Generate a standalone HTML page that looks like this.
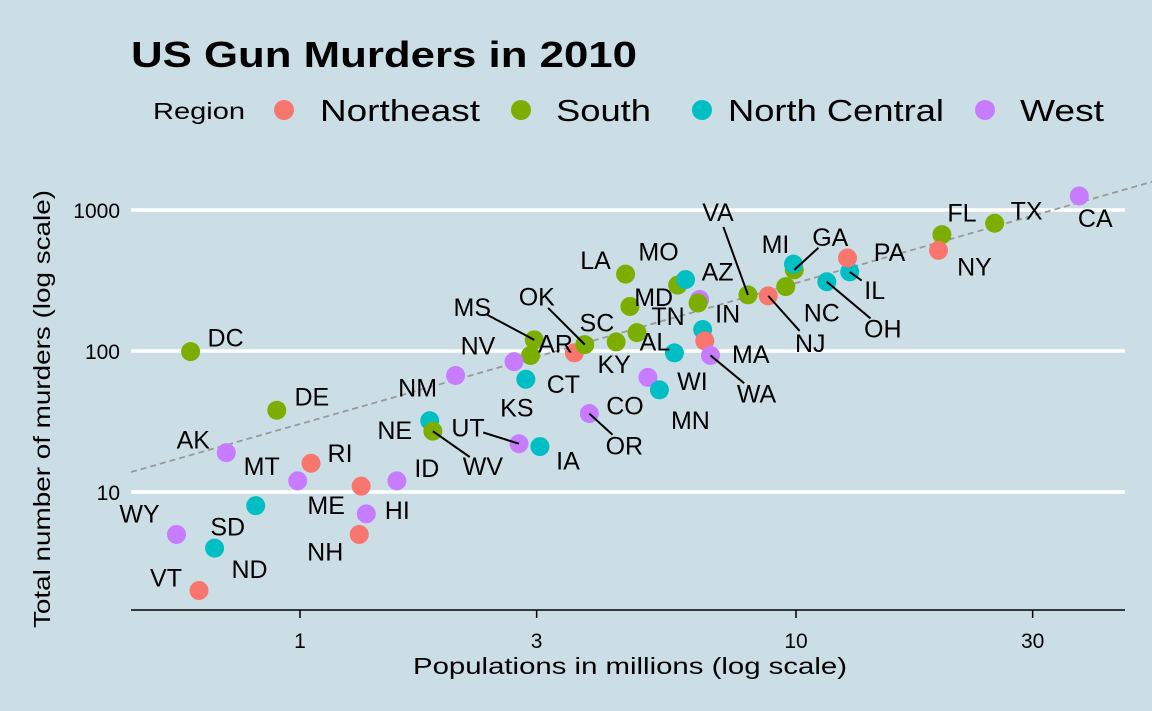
<!DOCTYPE html>
<html><head><meta charset="utf-8"><style>
body{margin:0;background:#cbdee6;}
svg{display:block;font-family:"Liberation Sans",Arial,sans-serif;}
</style></head><body>
<svg id="chart" width="1152" height="711">
<rect x="0" y="0" width="1152" height="711" fill="#cbdee6"/>
<text x="131" y="67" font-size="36" font-weight="bold" fill="#000" textLength="506" lengthAdjust="spacingAndGlyphs">US Gun Murders in 2010</text>
<g>
<text x="153" y="119" font-size="23" textLength="92" lengthAdjust="spacingAndGlyphs">Region</text>
<circle cx="284" cy="110" r="10" fill="#F8766D"/>
<text x="320" y="121" font-size="31" textLength="160" lengthAdjust="spacingAndGlyphs">Northeast</text>
<circle cx="521" cy="110" r="10" fill="#7CAE00"/>
<text x="556" y="121" font-size="31" textLength="95" lengthAdjust="spacingAndGlyphs">South</text>
<circle cx="702" cy="110" r="10" fill="#00BFC4"/>
<text x="728" y="121" font-size="31" textLength="216" lengthAdjust="spacingAndGlyphs">North Central</text>
<circle cx="985" cy="110" r="10" fill="#C77CFF"/>
<text x="1020" y="121" font-size="31" textLength="84" lengthAdjust="spacingAndGlyphs">West</text>
</g>
<g id="grid"></g><g id="axes"></g><g id="marks"></g>
<text x="413" y="674" font-size="23" textLength="434" lengthAdjust="spacingAndGlyphs">Populations in millions (log scale)</text>
<text transform="translate(50,628) rotate(-90)" font-size="23" textLength="438" lengthAdjust="spacingAndGlyphs">Total number of murders (log scale)</text>
</svg>
<script>
const abbs=["AL","AK","AZ","AR","CA","CO","CT","DE","DC","FL","GA","HI","ID","IL","IN","IA","KS","KY","LA","ME","MD","MA","MI","MN","MS","MO","MT","NE","NV","NH","NJ","NM","NY","NC","ND","OH","OK","OR","PA","RI","SC","SD","TN","TX","UT","VT","VA","WA","WV","WI","WY"];
const regions=["S","W","W","S","W","W","NE","S","S","S","S","W","W","NC","NC","NC","NC","S","S","NE","S","NE","NC","NC","S","NC","W","NC","W","NE","NE","W","NE","S","NC","NC","S","W","NE","NE","S","NC","S","S","W","NE","S","W","S","NC","W"];
const population=[4.779736,0.710231,6.392017,2.915918,37.253956,5.029196,3.574097,0.897934,0.601723,19.687653,9.92,1.360301,1.567582,12.830632,6.483802,3.046355,2.853118,4.339367,4.533372,1.328361,5.773552,6.547629,9.88364,5.303925,2.967297,5.988927,0.989415,1.826341,2.700551,1.31647,8.791894,2.059179,19.378102,9.535483,0.672591,11.536504,3.751351,3.831074,12.702379,1.052567,4.625364,0.81418,6.346105,25.145561,2.763885,0.625741,8.001024,6.72454,1.852994,5.686986,0.563626];
const murders=[135,19,232,93,1257,65,97,38,99,669,376,7,12,364,142,21,63,116,351,11,293,118,413,53,120,321,12,32,84,5,246,67,517,286,4,310,111,36,457,16,207,8,219,805,22,2,250,93,27,97,5];
const xTicks=[1,3,10,30];
const yTicks=[10,100,1000];
const rate=30.35;
const ldx=[18,-33,18,25,16,-23,-11,35,35,20,36,31,30,25,25,28,-9,-2,-30,-35,-24,46,-18,31,-62,-27,-36,-35,-36,-34,42,-38,36,36,35,56,-48,35,42,29,-33,-28,-30,32,-51,-33,-30,46,50,18,-37];
const ldy=[9,-13,-28,-12,22,28,31,-14,-14,-22,-33,-4,-13,18,-16,14,28,22,-14,19,12,13,-20,30,-33,-28,-15,9,-16,17,47,12,16,26,21,47,-48,32,-6,-10,16,21,13,-13,-16,-13,-83,38,35,28,-21];
const leader=["GA","OH","NJ","VA","MS","OK","OR","UT","WV","WA","IL"];
const colors={NE:"#F8766D",S:"#7CAE00",NC:"#00BFC4",W:"#C77CFF"};
const L=131,R=1125;
const xs=v=>300+496*Math.log10(v);
const ys=v=>633-141*Math.log10(v);
const ns="http://www.w3.org/2000/svg";
function mk(p,t,a){const e=document.createElementNS(ns,t);for(const k in a)e.setAttribute(k,a[k]);p.appendChild(e);return e;}
const grid=document.getElementById('grid'),axes=document.getElementById('axes'),marks=document.getElementById('marks');
yTicks.forEach(t=>{
 const g=mk(grid,'line',{x1:L,x2:R,y1:ys(t),y2:ys(t),stroke:'#fff','stroke-width':3.5});
 
 
 const tx=mk(axes,'text',{x:120,y:ys(t)+8,'font-size':21,'text-anchor':'end'});tx.textContent=t;
 
 
});
const ax=mk(axes,'line',{x1:L,x2:R,y1:610,y2:610,stroke:'#000','stroke-width':1.5});


xTicks.forEach(t=>{
 const tk=mk(axes,'line',{x1:xs(t),x2:xs(t),y1:610,y2:618,stroke:'#000','stroke-width':1.5});
 
 
 const tx=mk(axes,'text',{x:xs(t),y:648,'font-size':21,'text-anchor':'middle'});tx.textContent=t;
 
 
});
const x0=Math.pow(10,(L-300)/496),x1=Math.pow(10,(1152-300)/496);
const rl=mk(marks,'line',{x1:xs(x0),y1:ys(x0*rate),x2:xs(x1),y2:ys(x1*rate),stroke:'#999','stroke-width':1.8,'stroke-dasharray':'6,4'});


const pts=mk(marks,'g',{});const lbls=mk(marks,'g',{});
abbs.forEach((a,i)=>{
 const cx=xs(population[i]),cy=ys(murders[i]);
 const c=mk(pts,'circle',{cx:cx,cy:cy,r:9.5,fill:colors[regions[i]]});
 
 
 const lx=cx+ldx[i],ly=cy+ldy[i];
 if(leader.includes(a)){
  const d=Math.hypot(ldx[i],ldy[i]),s=(d-16)/d;
  const ln=mk(lbls,'line',{x1:cx,y1:cy,x2:cx+ldx[i]*s,y2:cy+ldy[i]*s,stroke:'#000','stroke-width':2});
  
  
 }
 const t=mk(lbls,'text',{x:lx,y:ly+9,'font-size':25,'text-anchor':'middle'});t.textContent=a;
 
 
});
</script>
</body></html>
